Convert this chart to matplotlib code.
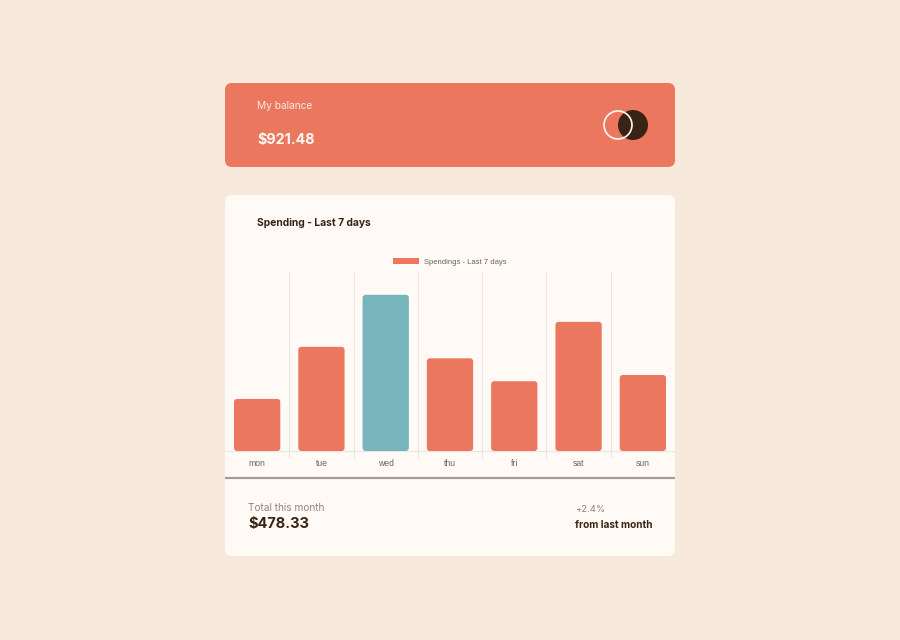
import matplotlib
matplotlib.use("Agg")
import matplotlib.pyplot as plt
from matplotlib.patches import FancyBboxPatch, Circle

# spending per day
days = ["mon", "tue", "wed", "thu", "fri", "sat", "sun"]
amounts = [17.45, 34.91, 52.36, 31.07, 23.39, 43.28, 25.48]
highlight = "wed"

balance = "$921.48"
total_month = "$478.33"
change = "+2.4%"

ORANGE = "#ec775f"
CYAN = "#76b5bc"
DARK = "#382314"
MUTED = "#92857a"
BG = "#f8e9dd"
CARD = "#fffaf5"

fig = plt.figure(figsize=(9, 6.4), dpi=100, facecolor=BG)

# background layer in pixel coords
bg = fig.add_axes([0, 0, 1, 1])
bg.set_xlim(0, 900)
bg.set_ylim(640, 0)
bg.axis("off")

bg.add_patch(FancyBboxPatch((225, 83), 450, 84, boxstyle="round,pad=0,rounding_size=7",
                            fc=ORANGE, ec="none"))
bg.add_patch(FancyBboxPatch((225, 195), 450, 361, boxstyle="round,pad=0,rounding_size=7",
                            fc=CARD, ec="none"))

bg.text(257, 106, "My balance", color="#fbeae0", fontsize=7.3, family="Inter", va="center")
bg.text(257, 140, balance, color="#fffaf5", fontsize=10.3, family="Inter",
        fontweight="bold", va="center")

# logo
bg.add_patch(Circle((633, 125), 15, fc=DARK, ec="none"))
bg.add_patch(Circle((618, 125), 14, fc="none", ec="#fffaf5", lw=1.2))

bg.text(257, 223, "Spending - Last 7 days", color=DARK, fontsize=7.4, family="Inter",
        fontweight="bold", va="center")

bg.plot([225, 675], [478, 478], color="#a39c96", lw=1.6, solid_capstyle="butt")

bg.text(248, 508, "Total this month", color=MUTED, fontsize=7.3, family="Inter", va="center")
bg.text(248, 524, total_month, color=DARK, fontsize=10.5, family="Inter",
        fontweight="bold", va="center")
bg.text(575, 510, change, color=MUTED, fontsize=6.8, family="Inter", va="center")
bg.text(575, 525, "from last month", color=DARK, fontsize=7.2, family="Inter",
        fontweight="bold", va="center")

# bar chart
ax = fig.add_axes([225 / 900, (640 - 451) / 640, 450 / 900, 179 / 640])
ax.set_facecolor("none")
x = list(range(len(days)))
colors = [CYAN if d == highlight else ORANGE for d in days]
bars = ax.bar(x, amounts, width=0.72, color=colors, label="Spendings - Last 7 days", zorder=3)
ax.set_xlim(-0.5, len(days) - 0.5)
ax.set_ylim(0, 60)
ax.set_yticks([])
ax.set_xticks(x)
ax.set_xticklabels(days, family="Liberation Sans", fontsize=6.2, color="#666666")
ax.set_xticks([i + 0.5 for i in x[:-1]], minor=True)
ax.tick_params(axis="x", which="major", length=0, pad=6)
ax.tick_params(axis="x", which="minor", length=5, color="#ebe6e1", width=0.8)
ax.grid(axis="x", which="minor", color="#ebe6e1", lw=0.8)
for s in ["top", "left", "right"]:
    ax.spines[s].set_visible(False)
ax.spines["bottom"].set_color("#ebe6e1")
ax.spines["bottom"].set_linewidth(0.8)

leg = ax.legend(loc="lower center", bbox_to_anchor=(0.5, 1.0), frameon=False,
                prop={"family": "Liberation Sans", "size": 5.5},
                handlelength=3.3, handleheight=0.9, handletextpad=0.7, borderaxespad=0.4)
for t in leg.get_texts():
    t.set_color("#666666")

# rounded bar corners (~3px)
px_x = 1 / 64.3
aspect = (60 / 179) / px_x
for b in bars:
    b.set_visible(False)
    ax.add_patch(FancyBboxPatch((b.get_x(), 0), b.get_width(), b.get_height(),
                                boxstyle=f"round,pad=0,rounding_size={3 * px_x}",
                                mutation_aspect=aspect, fc=b.get_facecolor(),
                                ec="none", zorder=3))

fig.savefig("out.png", dpi=100, facecolor=BG)
